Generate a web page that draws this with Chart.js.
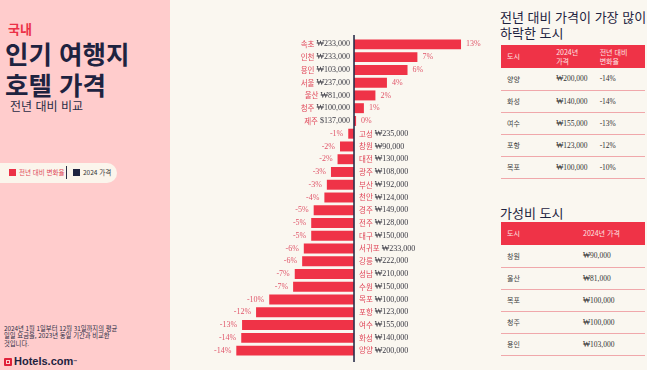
<!DOCTYPE html>
<html lang="ko">
<head>
<meta charset="utf-8">
<script src="https://cdn.jsdelivr.net/npm/chart.js@4.4.1/dist/chart.umd.min.js"></script>
<style>
  html, body { margin:0; padding:0; }
  body { width:647px; height:370px; background:#faf7f0; position:relative; overflow:hidden;
         font-family:"Noto Sans CJK KR","Noto Sans",sans-serif; color:#1e2340; }
  #left { position:absolute; left:0; top:0; width:170px; height:370px; background:#ffcccc; }
  .abs { position:absolute; white-space:nowrap; }
  #chartWrap { position:absolute; left:180px; top:32px; width:310px; height:334px; }
  table { border-collapse:collapse; position:absolute; font-size:7px; }
  th { background:#ef3347; color:#fde3e3; font-weight:400; text-align:left; padding:0 6px; line-height:9px; }
  td { border-bottom:1.5px solid #f0a8ab; padding:0 6px; color:#333; font-size:7.5px; font-family:"Liberation Serif","Noto Sans CJK KR",serif; }
  td.city { font-family:"Noto Sans CJK KR",sans-serif; color:#444; font-size:7px; }
</style>
</head>
<body>
<div id="left">
  <div class="abs" style="left:8px;top:19px;font-size:13px;font-weight:700;color:#ec3147;">국내</div>
  <div class="abs" style="left:5px;top:37px;font-size:25.5px;font-weight:700;line-height:31px;color:#1e2340;">인기 여행지<br>호텔 가격</div>
  <div class="abs" style="left:10px;top:97px;font-size:12px;color:#2a2d45;">전년 대비 비교</div>
  <div class="abs" style="left:-10px;top:163px;width:127px;height:20px;background:#fbf5ec;border-radius:10px;"></div>
  <div class="abs" style="left:9px;top:169px;width:7px;height:7px;background:#ec3147;"></div>
  <div class="abs" style="left:19px;top:167px;font-size:6.5px;color:#e0485a;">전년 대비 변화율</div>
  <div class="abs" style="left:66px;top:166px;width:1px;height:13px;background:#2a2d45;"></div>
  <div class="abs" style="left:73px;top:169px;width:7px;height:7px;background:#1e2340;"></div>
  <div class="abs" style="left:83px;top:167px;font-size:6.5px;color:#333;">2024 가격</div>
  <div class="abs" style="left:4px;top:325px;font-size:6.3px;line-height:7.4px;color:#2a2d45;">2024년 1월 1일부터 12월 31일까지의 평균<br>일일 요금을, 2023년 동일 기간과 비교한<br>것입니다.</div>
  <div class="abs" style="left:4px;top:358px;width:8px;height:8px;background:#e0213a;border-radius:1px;"></div>
  <div class="abs" style="left:6px;top:360px;width:4px;height:4px;border:1px solid #ffd0d0;box-sizing:border-box;"></div>
  <div class="abs" style="left:14px;top:355px;font-size:11px;font-weight:700;font-family:'Liberation Sans','Noto Sans',sans-serif;color:#1e2340;line-height:13px;">Hotels.com<span style="font-size:4px;vertical-align:top;">™</span></div>
</div>

<div id="chartWrap"><canvas id="c" width="310" height="334"></canvas></div>

<div class="abs" style="left:500px;top:9px;font-size:13px;line-height:16px;color:#1e2340;">전년 대비 가격이 가장 많이<br>하락한 도시</div>
<table id="t1" style="left:501px;top:45px;width:144px;"></table>
<div class="abs" style="left:500px;top:203px;font-size:13px;color:#1e2340;">가성비 도시</div>
<table id="t2" style="left:501px;top:222px;width:144px;"></table>

<script>
// ---- data ----
const cities = ["속초","인천","용인","서울","울산","청주","제주","고성","창원","대전","광주","부산","천안","경주","전주","대구","서귀포","강릉","성남","수원","목포","포항","여수","화성","양양"];
const prices = ["₩233,000","₩233,000","₩103,000","₩237,000","₩81,000","₩100,000","$137,000","₩235,000","₩90,000","₩130,000","₩108,000","₩192,000","₩124,000","₩149,000","₩128,000","₩150,000","₩233,000","₩222,000","₩210,000","₩150,000","₩100,000","₩123,000","₩155,000","₩140,000","₩200,000"];
const changes = [13.0,7.7,6.5,4.0,2.6,1.2,0.25,-0.7,-1.7,-2.0,-2.8,-3.3,-3.6,-4.9,-5.2,-5.2,-6.1,-6.3,-7.2,-7.4,-10.3,-11.9,-13.6,-13.7,-14.3];
const changeLabels = ["13%","7%","6%","4%","2%","1%","0%","-1%","-2%","-2%","-3%","-3%","-4%","-5%","-5%","-5%","-6%","-6%","-7%","-7%","-10%","-12%","-13%","-14%","-14%"];

const dropHeaders = ["도시","2024년<br>가격","전년 대비<br>변화율"];
const dropCities = ["양양","화성","여수","포항","목포"];
const dropPrices = ["₩200,000","₩140,000","₩155,000","₩123,000","₩100,000"];
const dropChanges = ["-14%","-14%","-13%","-12%","-10%"];

const valueHeaders = ["도시","2024년 가격"];
const valueCities = ["창원","울산","목포","청주","용인"];
const valuePrices = ["₩90,000","₩81,000","₩100,000","₩100,000","₩103,000"];

// ---- tables ----
function buildTable(id, headers, cols, widths, rowH) {
  const t = document.getElementById(id);
  let h = '<tr style="height:23px">' + headers.map((x,i)=>'<th style="width:'+widths[i]+'px">'+x+'</th>').join('') + '</tr>';
  for (let r = 0; r < cols[0].length; r++) {
    h += '<tr style="height:'+rowH+'px">' + cols.map((c,i)=>'<td class="'+(i===0?'city':'')+'">'+c[r]+'</td>').join('') + '</tr>';
  }
  t.innerHTML = h;
}
buildTable("t1", dropHeaders, [dropCities, dropPrices, dropChanges], [38, 30, 40], 22);
buildTable("t2", valueHeaders, [valueCities, valuePrices], [64, 56], 22);

// ---- chart ----
const labelPlugin = {
  id: 'labels',
  afterDatasetsDraw(chart) {
    const ctx = chart.ctx;
    const xs = chart.scales.x, ys = chart.scales.y;
    const x0 = xs.getPixelForValue(0);
    ctx.save();
    ctx.strokeStyle = '#2a2d4a';
    ctx.lineWidth = 1.6;
    ctx.beginPath();
    ctx.moveTo(x0, 3);
    ctx.lineTo(x0, chart.height - 4);
    ctx.stroke();
    ctx.textBaseline = 'middle';
    const cityFont = '7.5px "Noto Sans CJK KR", sans-serif';
    const numFont = '8px "Liberation Serif", "Noto Sans CJK KR", serif';
    changes.forEach((v, i) => {
      const y = ys.getPixelForValue(i);
      const xe = xs.getPixelForValue(v);
      ctx.font = numFont;
      const pw = ctx.measureText(prices[i]).width;
      ctx.font = cityFont;
      const cw = ctx.measureText(cities[i]).width;
      if (v >= 0) {
        const endX = x0 - 4;
        ctx.textAlign = 'left';
        ctx.font = numFont; ctx.fillStyle = '#3a3a44';
        ctx.fillText(prices[i], endX - pw, y);
        ctx.font = cityFont; ctx.fillStyle = '#e0485a';
        ctx.fillText(cities[i], endX - pw - 2 - cw, y);
        ctx.font = numFont; ctx.fillStyle = '#e0566a';
        ctx.fillText(changeLabels[i], xe + 5, y);
      } else {
        const sx = x0 + 5;
        ctx.textAlign = 'left';
        ctx.font = cityFont; ctx.fillStyle = '#e0485a';
        ctx.fillText(cities[i], sx, y);
        ctx.font = numFont; ctx.fillStyle = '#3a3a44';
        ctx.fillText(prices[i], sx + cw + 2, y);
        ctx.textAlign = 'right';
        ctx.font = numFont; ctx.fillStyle = '#e0566a';
        ctx.fillText(changeLabels[i], xe - 5, y);
      }
    });
    ctx.restore();
  }
};

new Chart(document.getElementById('c'), {
  type: 'bar',
  data: {
    labels: cities,
    datasets: [{
      data: changes,
      backgroundColor: '#ef3347',
      borderWidth: 0,
      barPercentage: 0.78,
      categoryPercentage: 1.0
    }]
  },
  options: {
    indexAxis: 'y',
    responsive: false,
    animation: false,
    layout: { padding: { top: 6, bottom: 9, left: 0, right: 0 } },
    plugins: { legend: { display: false }, tooltip: { enabled: false } },
    scales: {
      x: { display: false, min: -21.14, max: 16.52 },
      y: { display: false }
    }
  },
  plugins: [labelPlugin]
});
</script>
</body>
</html>
